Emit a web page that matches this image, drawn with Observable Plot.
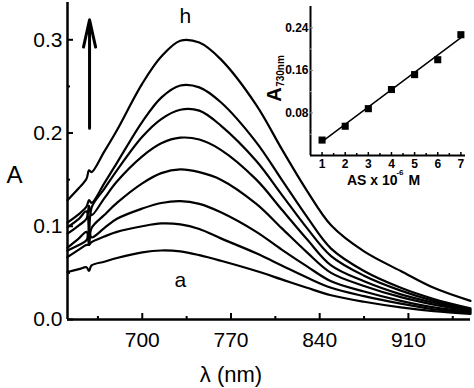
<!DOCTYPE html>
<html><head><meta charset="utf-8">
<script src="https://cdn.jsdelivr.net/npm/d3@7"></script>
<script src="https://cdn.jsdelivr.net/npm/@observablehq/plot@0.6"></script>
<style>
html,body{margin:0;padding:0;background:#fff;}
#wrap{position:relative;width:474px;height:388px;font-family:"Liberation Sans",Arial,sans-serif;}
#wrap svg{position:absolute;left:0;top:0;background:none;overflow:visible;}
</style></head><body><div id="wrap"></div>
<script>
// ---- main spectra data (absorbance) ----
const wavelengths = [641, 650, 656, 658, 660, 670, 680, 700, 715, 730, 745, 762, 790, 810, 830, 849, 875, 904, 930, 959];
const curveA = [0.051, 0.054, 0.056, 0.052, 0.058, 0.062, 0.066, 0.072, 0.074, 0.073, 0.069, 0.063, 0.052, 0.043, 0.034, 0.026, 0.019, 0.013, 0.009, 0.006];
const curveB = [0.067, 0.075, 0.080, 0.080, 0.083, 0.089, 0.094, 0.100, 0.103, 0.102, 0.097, 0.087, 0.071, 0.058, 0.045, 0.034, 0.025, 0.017, 0.011, 0.007];
const curveC = [0.074, 0.080, 0.085, 0.095, 0.088, 0.098, 0.108, 0.119, 0.125, 0.127, 0.124, 0.115, 0.094, 0.075, 0.057, 0.041, 0.030, 0.020, 0.013, 0.008];
const curveD = [0.077, 0.087, 0.094, 0.080, 0.098, 0.112, 0.125, 0.146, 0.157, 0.161, 0.158, 0.150, 0.124, 0.098, 0.072, 0.050, 0.036, 0.024, 0.016, 0.009];
const curveE = [0.092, 0.101, 0.108, 0.122, 0.112, 0.130, 0.148, 0.175, 0.189, 0.195, 0.193, 0.182, 0.150, 0.118, 0.086, 0.058, 0.041, 0.027, 0.018, 0.010];
const curveF = [0.099, 0.108, 0.116, 0.085, 0.120, 0.140, 0.160, 0.196, 0.215, 0.225, 0.224, 0.208, 0.170, 0.134, 0.098, 0.068, 0.047, 0.031, 0.020, 0.011];
const curveG = [0.104, 0.113, 0.121, 0.128, 0.125, 0.146, 0.168, 0.212, 0.238, 0.251, 0.249, 0.233, 0.190, 0.150, 0.110, 0.076, 0.052, 0.034, 0.022, 0.012];
const curveH = [0.128, 0.141, 0.151, 0.160, 0.158, 0.180, 0.203, 0.253, 0.282, 0.299, 0.297, 0.279, 0.230, 0.183, 0.138, 0.101, 0.073, 0.052, 0.034, 0.020];
const seriesNames = ["a", "b", "c", "d", "e", "f", "g", "h"];
const seriesValues = [curveA, curveB, curveC, curveD, curveE, curveF, curveG, curveH];

const xMajor = [700, 770, 840, 910];
const xMinor = [665, 735, 805, 875, 945];
const yMajor = [0, 0.1, 0.2, 0.3];
const yMinor = [0.05, 0.15, 0.25];

// curve annotations
const annotText = ["h", "a"];
const annotX = [734, 730];
const annotY = [0.325, 0.042];
// arrow (increasing concentration)
const arrowX = [658.4];
const arrowFrom = [0.205];
const arrowTo = [0.3215];

// ---- inset data ----
const conc = [1, 2, 3, 4, 5, 6, 7];
const a730 = [0.029, 0.055, 0.088, 0.124, 0.152, 0.180, 0.227];
const fitConc = [1, 7.05];
const fitA = [0.026, 0.223];
const insetXTicks = [1, 2, 3, 4, 5, 6, 7];
const insetXMinor = [1.5, 2.5, 3.5, 4.5, 5.5, 6.5];
const insetYTicks = [0.08, 0.16, 0.24];
const insetYMinor = [0.04, 0.12, 0.20];

const font = '"Liberation Sans", Arial, sans-serif';
const table = seriesNames.flatMap((name, k) =>
  wavelengths.map((w, i) => ({s: name, w, A: seriesValues[k][i]})));

const main = Plot.plot({
  width: 474, height: 388,
  marginLeft: 67, marginRight: 4, marginTop: 2, marginBottom: 69,
  style: {fontFamily: font, fontSize: "21px", color: "#000", background: "transparent"},
  x: {domain: [641, 959]},
  y: {domain: [0, 0.34]},
  marks: [
    Plot.line(table, {x: "w", y: "A", z: "s", stroke: "#000", strokeWidth: 2.2, curve: "catmull-rom"}),
    Plot.ruleY([0], {strokeWidth: 2.5}),
    Plot.ruleX([641], {strokeWidth: 2.5}),
    Plot.axisX(xMajor, {tickSize: 6, dy: -6, strokeWidth: 2, tickFormat: () => "", label: null}),
    Plot.axisX(xMinor, {tickSize: 3, dy: -3, strokeWidth: 2, tickFormat: () => "", label: null}),
    Plot.axisX(xMajor, {tickSize: 0, tickPadding: 13, fontSize: 21, label: null}),
    Plot.axisY(yMajor, {tickSize: 6, dx: 6, strokeWidth: 2, tickFormat: () => "", label: null}),
    Plot.axisY(yMinor, {tickSize: 3, dx: 3, strokeWidth: 2, tickFormat: () => "", label: null}),
    Plot.axisY(yMajor, {tickSize: 0, tickPadding: 5, fontSize: 21, tickFormat: d3.format(".1f"), label: null}),
    Plot.text(["A"], {frameAnchor: "left", dx: -53, dy: 14, fontSize: 24, textAnchor: "middle"}),
    Plot.text(["λ (nm)"], {frameAnchor: "bottom", dx: -38, dy: 55, fontSize: 22, textAnchor: "middle", lineAnchor: "middle"}),
    Plot.text(annotText, {x: (d, i) => annotX[i], y: (d, i) => annotY[i], text: d => d, fontSize: 21}),
    Plot.arrow(arrowX, {x1: d => d, x2: d => d, y1: (d, i) => arrowFrom[i], y2: (d, i) => arrowTo[i],
      strokeWidth: 3, headLength: 14, headAngle: 25, stroke: "#000"})
  ]
});

const inset = Plot.plot({
  width: 474, height: 200,
  marginLeft: 310, marginRight: 9, marginTop: 6, marginBottom: 45,
  style: {fontFamily: font, fontSize: "12px", fontWeight: "bold", color: "#000", background: "transparent"},
  x: {domain: [0.5, 7.2]},
  y: {domain: [0, 0.28]},
  marks: [
    Plot.ruleY([0], {strokeWidth: 2}),
    Plot.ruleX([0.5], {strokeWidth: 2}),
    Plot.axisX(insetXTicks, {tickSize: 3, dy: -3, strokeWidth: 1.5, tickFormat: () => "", label: null}),
    Plot.axisX(insetXMinor, {tickSize: 2, dy: -2, strokeWidth: 1.5, tickFormat: () => "", label: null}),
    Plot.axisX(insetXTicks, {tickSize: 0, tickPadding: 4, fontSize: 12, fontWeight: "bold", label: null}),
    Plot.axisY(insetYTicks, {tickSize: 3, dx: 3, strokeWidth: 1, stroke: "#888", tickFormat: () => "", label: null}),
    Plot.axisY(insetYMinor, {tickSize: 2, dx: 2, strokeWidth: 1, stroke: "#aaa", tickFormat: () => "", label: null}),
    Plot.axisY(insetYTicks, {tickSize: 0, tickPadding: 2, fontSize: 12, fontWeight: "bold", tickFormat: d3.format(".2f"), label: null}),
    Plot.line(fitConc, {x: d => d, y: (d, i) => fitA[i], stroke: "#000", strokeWidth: 1.5}),
    Plot.dot(conc, {x: d => d, y: (d, i) => a730[i], symbol: "square", r: 4, fill: "#000", stroke: null}),
    Plot.text(["A"], {frameAnchor: "left", dx: -36, dy: 13.5, rotate: -90, fontSize: 20, fontWeight: "bold", textAnchor: "middle"}),
    Plot.text(["730nm"], {frameAnchor: "left", dx: -29.5, dy: -10, rotate: -90, fontSize: 10, fontWeight: "bold", textAnchor: "middle"}),
    Plot.text(["AS x 10"], {frameAnchor: "bottom", dx: 9.5, dy: 29, fontSize: 14, fontWeight: "bold", textAnchor: "end"}),
    Plot.text(["-6"], {frameAnchor: "bottom", dx: 12, dy: 19, fontSize: 8, fontWeight: "bold", textAnchor: "middle"}),
    Plot.text(["M"], {frameAnchor: "bottom", dx: 20.5, dy: 29, fontSize: 14, fontWeight: "bold", textAnchor: "start"})
  ]
});

const wrap = document.getElementById("wrap");
wrap.appendChild(main);
wrap.appendChild(inset);
</script></body></html>
